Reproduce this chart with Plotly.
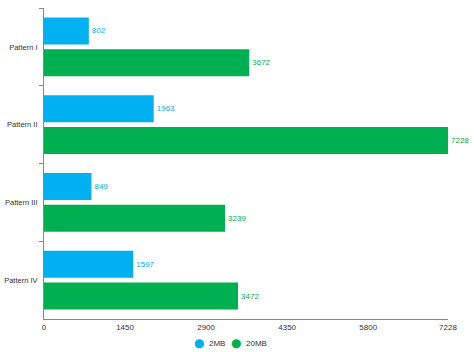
import plotly.graph_objects as go

categories = ["Pattern I", "Pattern II", "Pattern III", "Pattern IV"]
series_names = ["2MB", "20MB"]
values_2mb = [802, 1963, 849, 1597]
values_20mb = [3672, 7228, 3239, 3472]
tick_vals = [0, 1450, 2900, 4350, 5800, 7228]
colors = ["#00B0F0", "#00B050"]

fig = go.Figure()
for name, vals, c in zip(series_names, [values_2mb, values_20mb], colors):
    fig.add_trace(go.Bar(
        y=categories, x=vals, name=name, orientation="h",
        marker=dict(color=c, line=dict(width=0)),
        text=[str(v) for v in vals], textposition="outside",
        textfont=dict(color=c, size=8, family="Liberation Sans"),
        cliponaxis=False, showlegend=False,
    ))

# legend drawn as text entries (circle glyph + series name)
legend_x = [199, 236]
for name, c, lx in zip(series_names, colors, legend_x):
    fig.add_annotation(xref="paper", yref="paper", x=(lx - 44) / 404, y=-24 / 311,
                       text="●", showarrow=False, xanchor="center", yanchor="middle",
                       font=dict(size=12, color=c, family="DejaVu Sans"))
    fig.add_annotation(xref="paper", yref="paper", x=(lx + 8 - 44) / 404, y=-24 / 311,
                       text=name, showarrow=False, xanchor="left", yanchor="middle",
                       font=dict(size=8, color="#333333"))

fig.update_layout(
    width=474, height=352,
    margin=dict(l=44, r=26, t=8, b=33, autoexpand=False),
    paper_bgcolor="white", plot_bgcolor="white",
    barmode="group", bargap=0.18, bargroupgap=0.156,
    font=dict(family="Liberation Sans", size=8, color="#333333"),
    showlegend=False,
)
fig.update_xaxes(
    range=[0, 7228], tickvals=tick_vals, ticktext=[str(v) for v in tick_vals],
    showgrid=False, zeroline=False, showline=True, linecolor="#888888", linewidth=1,
    ticks="", tickfont=dict(size=8, color="#333333"), automargin=False,
)
fig.update_yaxes(
    categoryorder="array", categoryarray=categories, autorange="reversed",
    showgrid=False, zeroline=False, showline=True, linecolor="#888888", linewidth=1,
    ticks="outside", tickson="boundaries", ticklen=4, tickcolor="#888888",
    tickfont=dict(size=7.5, color="#333333"), ticklabelstandoff=4, automargin=False,
)

fig.write_html("out.html")
